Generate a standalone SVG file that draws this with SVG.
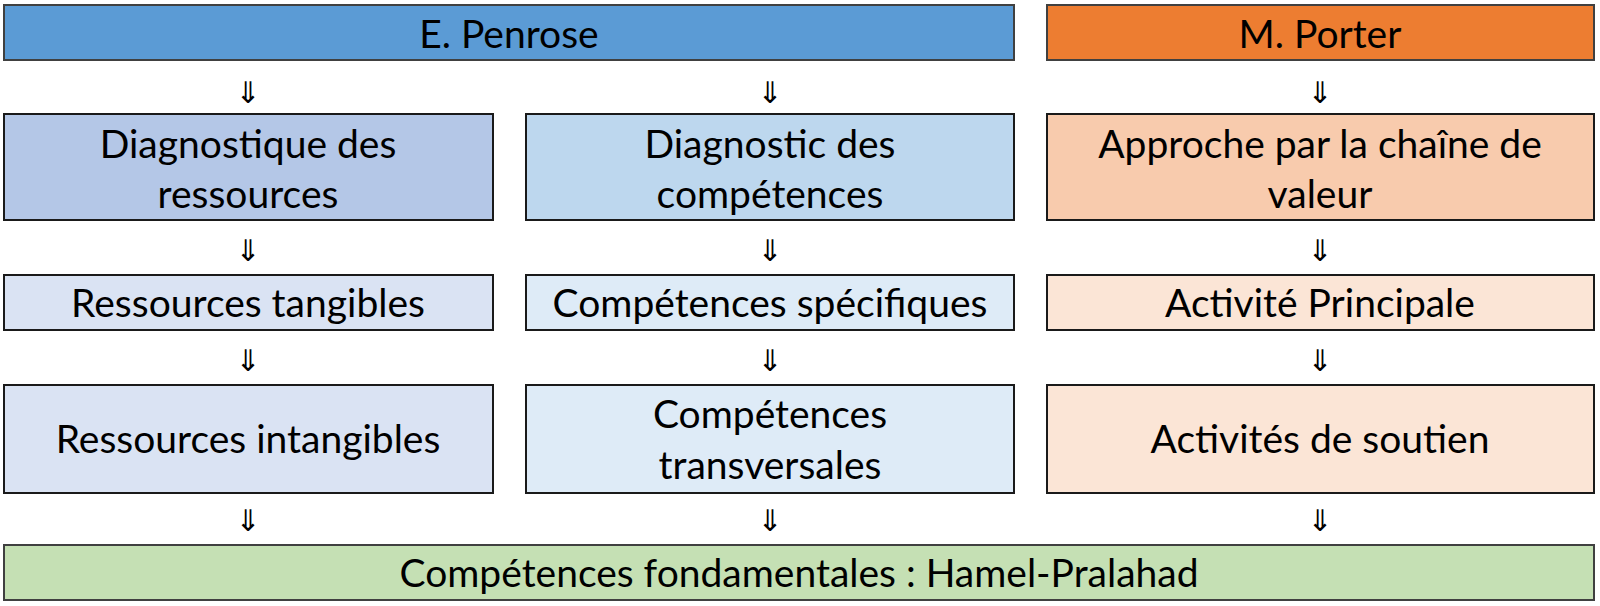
<svg xmlns="http://www.w3.org/2000/svg" width="1600" height="606" viewBox="0 0 1600 606">
<style>
.box{stroke:#1a1a1a;stroke-width:2}
.hdr{stroke:#404040;stroke-width:2}
.t{font-family:Lato,"Noto Sans",sans-serif;font-size:39px;fill:#000;text-anchor:middle;dominant-baseline:central}
.a{font-family:"DejaVu Sans",sans-serif;font-size:30px;fill:#000;text-anchor:middle;dominant-baseline:central}
</style>
<rect width="1600" height="606" fill="#fff"/>
<g id="penrose"><rect class="hdr" x="4" y="5" width="1010" height="55" fill="#5B9BD5"/><text class="t" x="509" y="33">E. Penrose</text></g>
<g id="porter"><rect class="hdr" x="1047" y="5" width="547" height="55" fill="#ED7D31"/><text class="t" x="1320" y="33">M. Porter</text></g>
<g id="diag-ressources"><rect class="box" x="4" y="114" width="489" height="106" fill="#B4C7E7"/><text class="t" x="248" y="143">Diagnostique des</text><text class="t" x="248" y="193">ressources</text></g>
<g id="diag-competences"><rect class="box" x="526" y="114" width="488" height="106" fill="#BDD7EE"/><text class="t" x="770" y="143">Diagnostic des</text><text class="t" x="770" y="193">compétences</text></g>
<g id="chaine-valeur"><rect class="box" x="1047" y="114" width="547" height="106" fill="#F8CBAD"/><text class="t" x="1320" y="143">Approche par la chaîne de</text><text class="t" x="1320" y="193">valeur</text></g>
<g id="ress-tangibles"><rect class="box" x="4" y="275" width="489" height="55" fill="#DAE3F3"/><text class="t" x="248" y="302">Ressources tangibles</text></g>
<g id="comp-specifiques"><rect class="box" x="526" y="275" width="488" height="55" fill="#DEEBF7"/><text class="t" x="770" y="302">Compétences spécifiques</text></g>
<g id="activite-principale"><rect class="box" x="1047" y="275" width="547" height="55" fill="#FBE5D6"/><text class="t" x="1320" y="302">Activité Principale</text></g>
<g id="ress-intangibles"><rect class="box" x="4" y="385" width="489" height="108" fill="#DAE3F3"/><text class="t" x="248" y="438">Ressources intangibles</text></g>
<g id="comp-transversales"><rect class="box" x="526" y="385" width="488" height="108" fill="#DEEBF7"/><text class="t" x="770" y="413">Compétences</text><text class="t" x="770" y="464">transversales</text></g>
<g id="activites-soutien"><rect class="box" x="1047" y="385" width="547" height="108" fill="#FBE5D6"/><text class="t" x="1320" y="438">Activités de soutien</text></g>
<g id="fondamentales"><rect class="hdr" x="4" y="545" width="1590" height="55" fill="#C5E0B4"/><text class="t" x="799" y="572">Compétences fondamentales : Hamel-Pralahad</text></g>
<g id="connectors">
<text class="a" x="248" y="92">⇓</text><text class="a" x="770" y="92">⇓</text><text class="a" x="1320" y="92">⇓</text>
<text class="a" x="248" y="250">⇓</text><text class="a" x="770" y="250">⇓</text><text class="a" x="1320" y="250">⇓</text>
<text class="a" x="248" y="360">⇓</text><text class="a" x="770" y="360">⇓</text><text class="a" x="1320" y="360">⇓</text>
<text class="a" x="248" y="520">⇓</text><text class="a" x="770" y="520">⇓</text><text class="a" x="1320" y="520">⇓</text>
</g>
</svg>
